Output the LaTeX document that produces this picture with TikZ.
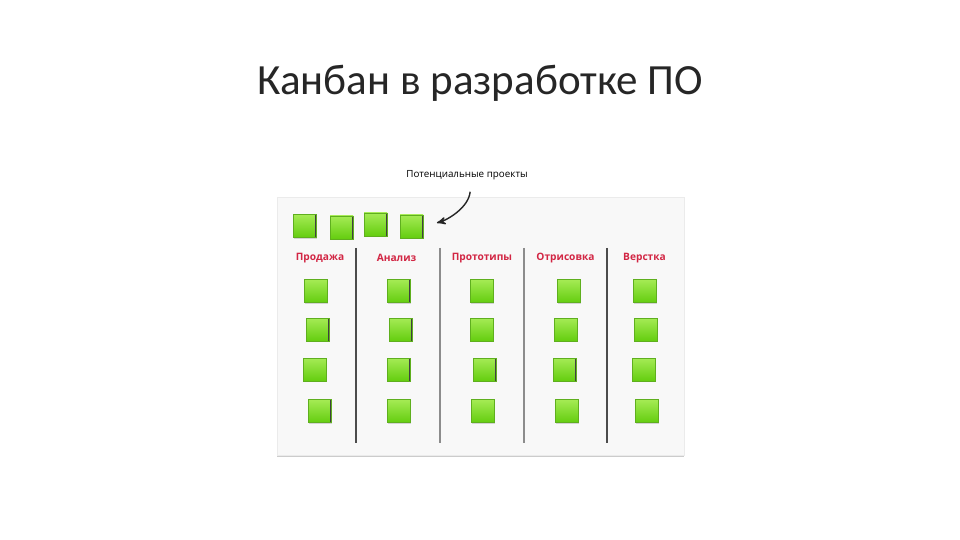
\documentclass[tikz,border=0pt]{standalone}
\usepackage{fontspec}
\setmainfont{Carlito}
\newfontfamily\headfont{Open Sans}
\usetikzlibrary{arrows, positioning, shadows}
\definecolor{headred}{RGB}{210,38,68}
\definecolor{cardtop}{RGB}{165,235,85}
\definecolor{cardbot}{RGB}{100,205,15}
\definecolor{cardedge}{RGB}{95,175,30}
\definecolor{boardfill}{RGB}{248,248,248}
\tikzset{
    greennode/.style={rectangle, draw=cardedge, top color=cardtop, bottom color=cardbot, minimum size=0.46cm, inner sep=0pt,
        drop shadow={shadow xshift=0.4pt, shadow yshift=-0.6pt, opacity=0.3},
        path picture={\draw[black!75, line width=0.9pt] (path picture bounding box.north east) -- (path picture bounding box.south east);}},
    headnode/.style={text=headred, font=\headfont\bfseries\fontsize{5.8}{7}\selectfont, inner sep=1pt},
    mylabel/.style={font=\headfont\fontsize{5.6}{7}\selectfont, inner sep=1pt},
    mytitle/.style={font=\fontsize{24.5}{29}\selectfont, text=black!85},
    myarrow/.style={->, >=stealth', thick, black!85},
    myline/.style={black!70, line width=0.7pt}
}
\begin{document}
\begin{tikzpicture}[x=0.02cm, y=-0.02cm]
        \useasboundingbox[fill=white] (0,0) rectangle (960,540);

        % ------------------
        % title and board
        % ------------------

        \node[mytitle] (title) at (480,83) {Канбан в разработке ПО};

        \fill[boardfill, drop shadow={shadow xshift=0pt, shadow yshift=-1pt, opacity=0.4}] (277,197) rectangle (684,455);
        \draw[black!8] (277,197) rectangle (684,455);

        \draw[myline] (356,248) -- (356,443);
        \draw[myline, black!45] (440,248) -- (440,443);
        \draw[myline, black!45] (524,248) -- (524,443);
        \draw[myline] (607,248) -- (607,443);

        % ------------------
        % potential projects
        % ------------------

        \node[greennode] (pc1) at (304.5,226) {};
        \node[greennode] (pc2) at (341.5,227.5) {};
        \node[greennode] (pc3) at (375.5,224.5) {};
        \node[greennode] (pc4) at (411.5,226.5) {};
        \node[mylabel] (potential) at (467,175) {Потенциальные проекты};

        % ------------------
        % column headers
        % ------------------

        \node[headnode] (sales) at (320,258) {Продажа};
        \node[headnode] (analysis) at (396.5,258) {Анализ};
        \node[headnode] (prototypes) at (482,258) {Прототипы};
        \node[headnode] (drawing) at (565.5,258) {Отрисовка};
        \node[headnode] (layout) at (644.5,258) {Верстка};

        % ------------------
        % cards
        % ------------------

        \node[greennode] (sales1) at (316,291) {};
        \node[greennode] (sales2) at (317.5,329.5) {};
        \node[greennode] (sales3) at (315,369.5) {};
        \node[greennode] (sales4) at (319.5,411) {};

        \node[greennode] (analysis1) at (398.5,291) {};
        \node[greennode] (analysis2) at (400.5,329.5) {};
        \node[greennode] (analysis3) at (398.5,369.5) {};
        \node[greennode] (analysis4) at (399,411) {};

        \node[greennode] (prototypes1) at (482,291) {};
        \node[greennode] (prototypes2) at (482,329.5) {};
        \node[greennode] (prototypes3) at (484.5,369.5) {};
        \node[greennode] (prototypes4) at (483,411) {};

        \node[greennode] (drawing1) at (569,291) {};
        \node[greennode] (drawing2) at (566,329.5) {};
        \node[greennode] (drawing3) at (564.5,369.5) {};
        \node[greennode] (drawing4) at (567,411) {};

        \node[greennode] (layout1) at (645,291) {};
        \node[greennode] (layout2) at (646,329.5) {};
        \node[greennode] (layout3) at (644,369.5) {};
        \node[greennode] (layout4) at (647,411) {};

        % ------------------
        % arrows
        % ------------------

        \draw[myarrow, shorten <=0.2cm, shorten >=0.28cm] ([xshift=0.08cm]potential.south) to[out=-95, in=15] (pc4.east);

\end{tikzpicture}
\end{document}
